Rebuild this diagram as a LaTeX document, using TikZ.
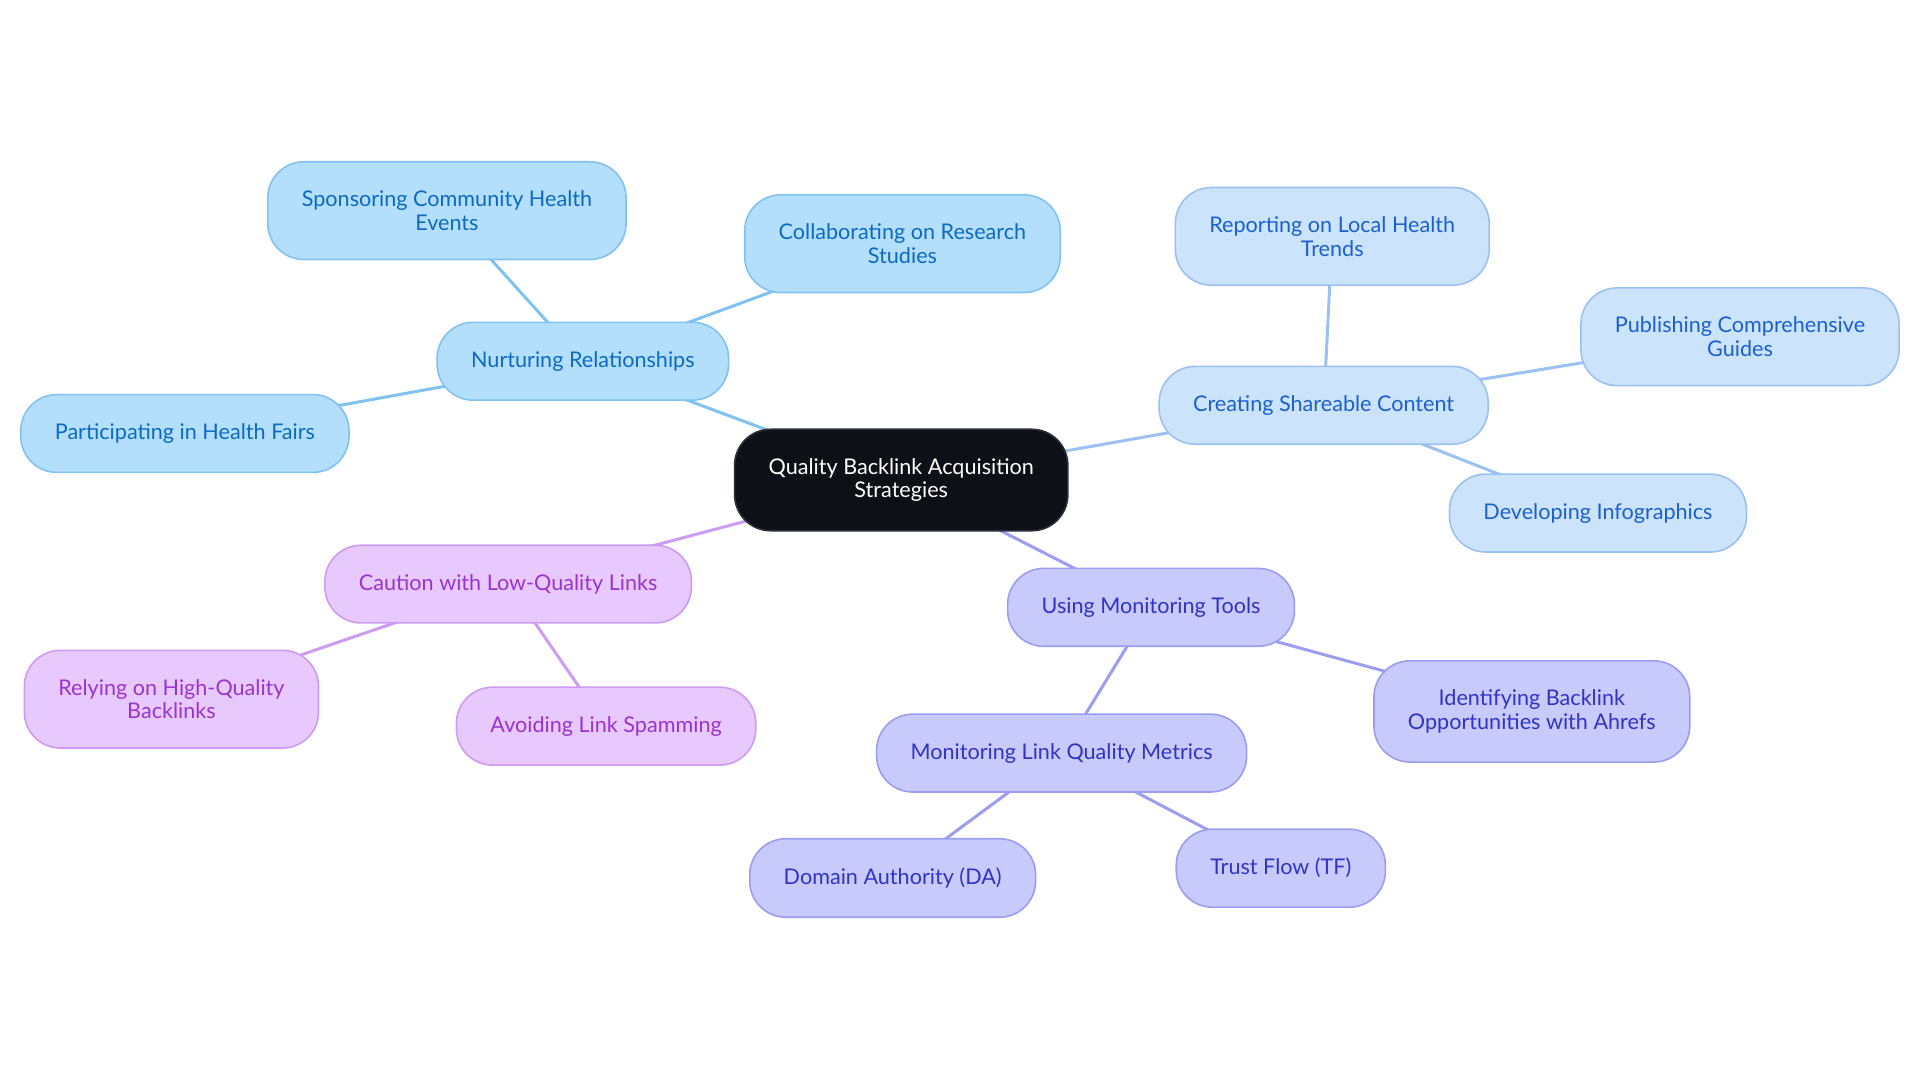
\documentclass[tikz,border=0pt]{standalone}
\usepackage{fontspec}
\setmainfont{Lato}
\usetikzlibrary{backgrounds}

\definecolor{rootfill}{HTML}{0D1117}
\definecolor{rootline}{HTML}{2B2F36}
\definecolor{nurtfill}{HTML}{B3DFFD}
\definecolor{nurtline}{HTML}{80C2F0}
\definecolor{nurttext}{HTML}{0B6AC2}
\definecolor{sharefill}{HTML}{CCE3FC}
\definecolor{shareline}{HTML}{9BC1F2}
\definecolor{sharetext}{HTML}{1B60D0}
\definecolor{monfill}{HTML}{C8CAFC}
\definecolor{monline}{HTML}{9A9DF0}
\definecolor{montext}{HTML}{3033C4}
\definecolor{cautfill}{HTML}{E8C9FD}
\definecolor{cautline}{HTML}{CD9BF2}
\definecolor{cauttext}{HTML}{9A33D0}

\tikzset{
  mind/.style={rounded corners=18pt, line width=0.8pt, inner xsep=17pt,
    inner ysep=14.5pt, minimum height=38pt, align=center,
    font=\fontsize{10.8}{11.8}\selectfont},
  rootbox/.style={mind, fill=rootfill, draw=rootline, text=white},
  nurtbox/.style={mind, fill=nurtfill, draw=nurtline, text=nurttext},
  sharebox/.style={mind, fill=sharefill, draw=shareline, text=sharetext},
  monbox/.style={mind, fill=monfill, draw=monline, text=montext},
  cautbox/.style={mind, fill=cautfill, draw=cautline, text=cauttext},
  link/.style={line width=1.5pt}
}

\begin{document}
\begin{tikzpicture}[x=0.6122pt, y=-0.6122pt]
    \useasboundingbox (0,0) rectangle (1568,884.4);

    % centre
    \node[rootbox] (root) at (736,392) {Quality Backlink Acquisition\\Strategies};

    % relationships
    \node[nurtbox] (nurt) at (476,295) {Nurturing Relationships};
    \node[nurtbox] (spons) at (365,172) {Sponsoring Community Health\\Events};
    \node[nurtbox] (collab) at (737,199) {Collaborating on Research\\Studies};
    \node[nurtbox] (partic) at (151,354) {Participating in Health Fairs};

    % content
    \node[sharebox] (share) at (1081,331) {Creating Shareable Content};
    \node[sharebox] (report) at (1088,193) {Reporting on Local Health\\Trends};
    \node[sharebox] (guides) at (1421,275) {Publishing Comprehensive\\Guides};
    \node[sharebox] (infog) at (1305,419) {Developing Infographics};

    % monitoring
    \node[monbox] (tools) at (940,496) {Using Monitoring Tools};
    \node[monbox] (ahrefs) at (1251,581) {Identifying Backlink\\Opportunities with Ahrefs};
    \node[monbox] (metrics) at (867,615) {Monitoring Link Quality Metrics};
    \node[monbox] (da) at (729,717) {Domain Authority (DA)};
    \node[monbox] (tf) at (1046,709) {Trust Flow (TF)};

    % caution
    \node[cautbox] (caution) at (415,477) {Caution with Low-Quality Links};
    \node[cautbox] (rely) at (140,571) {Relying on High-Quality\\Backlinks};
    \node[cautbox] (avoid) at (495,593) {Avoiding Link Spamming};

    \begin{scope}[on background layer]
        \draw[link, nurtline] (root.center) -- (nurt.center);
        \draw[link, nurtline] (nurt.center) -- (spons.center);
        \draw[link, nurtline] (nurt.center) -- (collab.center);
        \draw[link, nurtline] (nurt.center) -- (partic.center);
        \draw[link, shareline] (root.center) -- (share.center);
        \draw[link, shareline] (share.center) -- (report.center);
        \draw[link, shareline] (share.center) -- (guides.center);
        \draw[link, shareline] (share.center) -- (infog.center);
        \draw[link, monline] (root.center) -- (tools.center);
        \draw[link, monline] (tools.center) -- (ahrefs.center);
        \draw[link, monline] (tools.center) -- (metrics.center);
        \draw[link, monline] (metrics.center) -- (da.center);
        \draw[link, monline] (metrics.center) -- (tf.center);
        \draw[link, cautline] (root.center) -- (caution.center);
        \draw[link, cautline] (caution.center) -- (rely.center);
        \draw[link, cautline] (caution.center) -- (avoid.center);
    \end{scope}
\end{tikzpicture}
\end{document}
